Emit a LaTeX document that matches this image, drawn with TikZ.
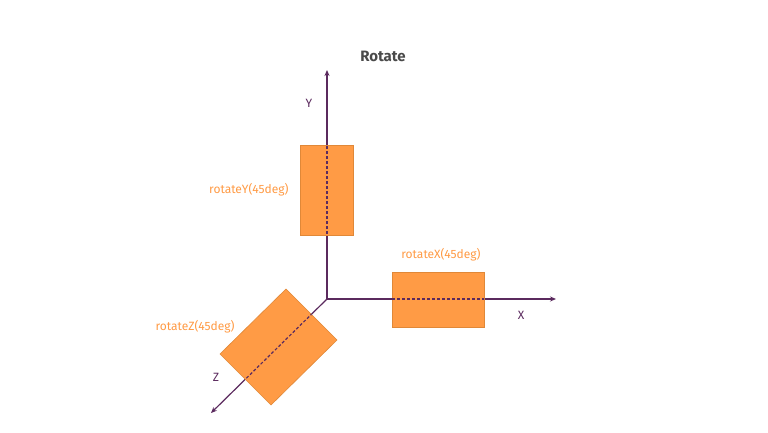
\documentclass[tikz,border=0pt]{standalone}
\usepackage{fontspec}
\setmainfont{Fira Sans}
\usetikzlibrary{arrows.meta}
\definecolor{ax}{HTML}{5B2A5E}
\definecolor{org}{HTML}{FF9B45}
\definecolor{orgd}{HTML}{E08838}
\definecolor{ttl}{HTML}{4A4A4A}
\begin{document}
\begin{tikzpicture}[x=1pt,y=-1pt,
  axis/.style={draw=ax,line width=1.2pt,-{Stealth[length=6pt,width=5pt]}},
  dash line/.style={draw=ax,line width=1.2pt,dash pattern=on 3pt off 2pt},
  box/.style={fill=org,draw=orgd,line width=0.6pt},
  lbl/.style={text=org,font=\fontsize{12}{14}\selectfont},
  axl/.style={text=ax,font=\fontsize{12}{14}\selectfont}]
\useasboundingbox (0,0) rectangle (768,433);
\fill[white] (0,0) rectangle (768,433);
\coordinate (O) at (327,299);
\coordinate (Ye) at (327,70);
\coordinate (Xe) at (556,299);
\coordinate (Ze) at (211,413);
\draw[axis] (O) -- (Ye);
\draw[axis] (O) -- (Xe);
\draw[axis] (O) -- (Ze);
% boxes
\path[box] (300,145) rectangle (353,235);
\begin{scope}\clip (300,145) rectangle (353,235);\draw[dash line] (O) -- (Ye);\end{scope}
\path[box] (392,272) rectangle (484,327);
\begin{scope}\clip (392,272) rectangle (484,327);\draw[dash line] (O) -- (Xe);\end{scope}
\path[box] (286,289) -- (337,340) -- (271,405) -- (220,354) -- cycle;
\begin{scope}\clip (286,289) -- (337,340) -- (271,405) -- (220,354) -- cycle;\draw[dash line] (O) -- (Ze);\end{scope}
% texts
\node[text=ttl,font=\bfseries\fontsize{15}{18}\selectfont] (t) at (383,56) {Rotate};
\node[axl] (ly) at (309,103) {Y};
\node[axl] (lx) at (521,315) {X};
\node[axl] (lz) at (216,377) {Z};
\node[lbl,anchor=east] (ry) at (292,190) {rotateY(45deg)};
\node[lbl] (rx) at (441,255) {rotateX(45deg)};
\node[lbl,anchor=east] (rz) at (238,327) {rotateZ(45deg)};
\end{tikzpicture}
\end{document}
